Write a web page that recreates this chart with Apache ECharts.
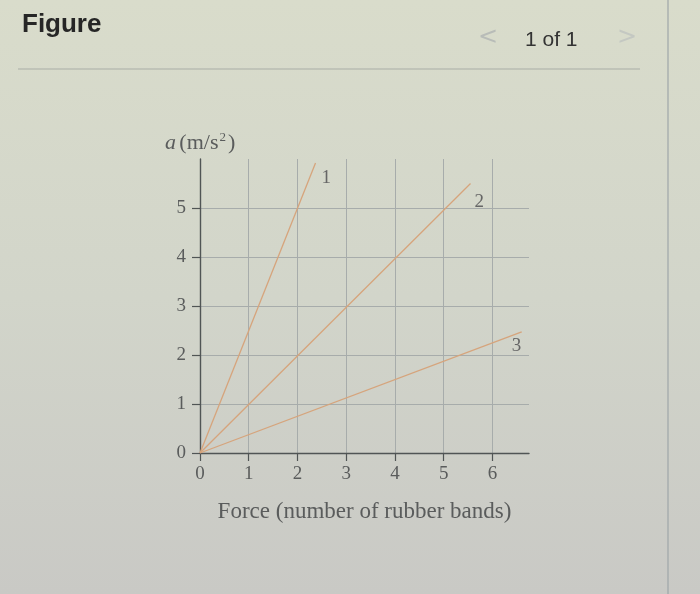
<!DOCTYPE html>
<html>
<head>
<meta charset="utf-8">
<script src="https://cdn.jsdelivr.net/npm/echarts@6/dist/echarts.min.js"></script>
<style>
html,body{margin:0;padding:0;}
#c{width:700px;height:594px;}
</style>
</head>
<body>
<div id="c"></div>
<script>
// Data
const xTicks = [0, 1, 2, 3, 4, 5, 6];
const yTicks = [0, 1, 2, 3, 4, 5];
const line1 = [[0, 0], [2.37, 5.92]];
const line2 = [[0, 0], [5.55, 5.5]];
const line3 = [[0, 0], [6.6, 2.47]];
const lineNames = ['1', '2', '3'];

const chart = echarts.init(document.getElementById('c'));
const serif = '"Liberation Serif", "DejaVu Serif", serif';
const lineColor = '#d6a47c';
const gridColor = '#a7acab';
const axisColor = '#505555';
const textColor = '#5a5c5c';

function lineSeries(data, name, offset) {
  return {
    type: 'line',
    name: name,
    data: data,
    symbol: 'none',
    lineStyle: { color: lineColor, width: 1.3 },
    endLabel: {
      show: true,
      formatter: name,
      distance: 0,
      offset: offset,
      fontFamily: serif,
      fontSize: 19,
      color: '#666'
    },
    silent: true
  };
}

chart.setOption({
  backgroundColor: {
    type: 'linear', x: 0, y: 0, x2: 0, y2: 1,
    colorStops: [
      { offset: 0, color: '#d9dccb' },
      { offset: 0.5, color: '#d2d5ca' },
      { offset: 1, color: '#c9c9c5' }
    ]
  },
  animation: false,
  graphic: [
    { type: 'text', left: 22, top: 12, style: { text: 'Figure', font: 'bold 26px "Liberation Sans", Arial, sans-serif', fill: '#262626' } },
    { type: 'text', left: 525, top: 30, style: { text: '1 of 1', font: '21px "Liberation Sans", Arial, sans-serif', fill: '#333' } },
    { type: 'text', left: 478, top: 26, style: { text: '<', font: '24px "DejaVu Sans", sans-serif', fill: '#b8bcb8' } },
    { type: 'text', left: 617, top: 26, style: { text: '>', font: '24px "DejaVu Sans", sans-serif', fill: '#c4c8c2' } },
    { type: 'line', shape: { x1: 18, y1: 69, x2: 640, y2: 69 }, style: { stroke: '#a9ada6', lineWidth: 1 } },
    { type: 'line', shape: { x1: 668, y1: 0, x2: 668, y2: 594 }, style: { stroke: '#9ea6a8', lineWidth: 1.2 } },
    { type: 'text', left: 165, top: 131, style: {
        rich: {
          i: { fontFamily: serif, fontStyle: 'italic', fontSize: 22, fill: textColor },
          n: { fontFamily: serif, fontSize: 22, fill: textColor },
          s: { fontFamily: serif, fontSize: 13, fill: textColor, verticalAlign: 'top', padding: [0, 2, 12, 1] }
        },
        text: '{i|a} {n|(m/s}{s|2}{n|)}'
      } }
  ],
  grid: { left: 200, top: 159, width: 329, height: 294, containLabel: false },
  xAxis: {
    type: 'value', min: 0, max: 6.75, interval: 1,
    name: 'Force (number of rubber bands)',
    nameLocation: 'middle', nameGap: 47,
    nameTextStyle: { fontFamily: serif, fontSize: 23, color: textColor },
    axisLine: { show: true, onZero: false, lineStyle: { color: axisColor, width: 1.4 } },
    axisTick: { show: true, length: 8, lineStyle: { color: axisColor, width: 1.2 }, customValues: xTicks },
    axisLabel: { fontFamily: serif, fontSize: 19, color: textColor, margin: 12, customValues: xTicks },
    splitLine: { show: true, showMinLine: false, showMaxLine: true, lineStyle: { color: gridColor, width: 1 } }
  },
  yAxis: {
    type: 'value', min: 0, max: 6, interval: 1,
    axisLine: { show: true, onZero: false, lineStyle: { color: axisColor, width: 1.4 } },
    axisTick: { show: true, length: 8, lineStyle: { color: axisColor, width: 1.2 }, customValues: yTicks },
    axisLabel: { fontFamily: serif, fontSize: 19, color: textColor, margin: 14, customValues: yTicks },
    splitLine: { show: true, showMinLine: false, showMaxLine: true, lineStyle: { color: gridColor, width: 1 } }
  },
  series: [
    lineSeries(line1, lineNames[0], [6, 15]),
    lineSeries(line2, lineNames[1], [4, 19]),
    lineSeries(line3, lineNames[2], [-10, 14])
  ]
});
</script>
</body>
</html>
